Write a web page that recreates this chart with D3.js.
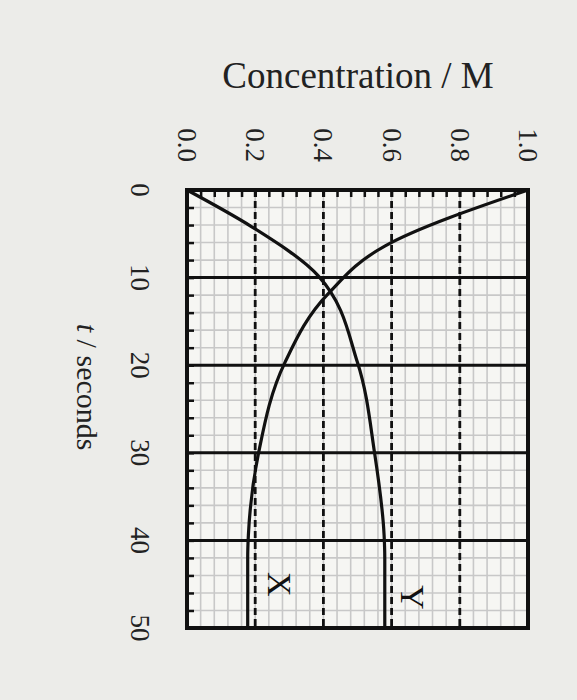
<!DOCTYPE html>
<html><head><meta charset="utf-8">
<script src="https://cdn.jsdelivr.net/npm/d3@7"></script>
<style>body{margin:0;background:#ecece9}</style></head>
<body><svg id="c" width="577" height="700"></svg>
<script>
const concTicks=[0,0.2,0.4,0.6,0.8,1.0];
const concLabels=["0.0","0.2","0.4","0.6","0.8","1.0"];
const timeTicks=[0,10,20,30,40,50];
const timeLabels=["0","10","20","30","40","50"];
const tX=[0,6.4,11.8,19.7,30,39.4,42,50];
const cX=[1.0,0.58,0.415,0.287,0.21,0.18,0.178,0.178];
const tY=[0,4.2,9.8,19.7,30,39.4,42,50];
const cY=[0,0.19,0.385,0.50,0.55,0.578,0.58,0.58];

const svg=d3.select("#c");
const xc=d3.scaleLinear().domain([0,1]).range([187,528]);
const yt=d3.scaleLinear().domain([0,50]).range([190,628]);
const F="'Liberation Serif','DejaVu Serif',serif";

svg.append("rect").attr("width",577).attr("height",700).attr("fill","#ecece9");
svg.append("rect").attr("x",xc(0)).attr("y",yt(0)).attr("width",xc(1)-xc(0)).attr("height",yt(50)-yt(0)).attr("fill","#f6f6f3");

const g=svg.append("g");
// minor grid
g.selectAll(".mc").data(d3.range(1,25).map(i=>i*0.04)).join("line")
 .attr("x1",d=>xc(d)).attr("x2",d=>xc(d)).attr("y1",yt(0)).attr("y2",yt(50))
 .attr("stroke","#c8c8c8").attr("stroke-width",1.6);
g.selectAll(".mt").data(d3.range(1,25).map(i=>i*2)).join("line")
 .attr("y1",d=>yt(d)).attr("y2",d=>yt(d)).attr("x1",xc(0)).attr("x2",xc(1))
 .attr("stroke","#c8c8c8").attr("stroke-width",1.6);
// major
g.selectAll(".Mc").data(concTicks.slice(1,5)).join("line")
 .attr("x1",d=>xc(d)).attr("x2",d=>xc(d)).attr("y1",yt(0)).attr("y2",yt(50))
 .attr("stroke","#111").attr("stroke-width",2.8).attr("stroke-dasharray","7,4");
g.selectAll(".Mt").data(timeTicks.slice(1,5)).join("line")
 .attr("y1",d=>yt(d)).attr("y2",d=>yt(d)).attr("x1",xc(0)).attr("x2",xc(1))
 .attr("stroke","#111").attr("stroke-width",3);
// tick marks via axes
svg.append("g").attr("transform",`translate(0,${yt(0)})`)
 .call(d3.axisBottom(xc).tickValues(d3.range(0,26).map(i=>i*0.04)).tickSize(7).tickFormat(""))
 .call(a=>{a.select(".domain").remove();a.selectAll("line").attr("stroke","#111").attr("stroke-width",2.5);});
svg.append("g").attr("transform",`translate(${xc(0)},0)`)
 .call(d3.axisRight(yt).tickValues(d3.range(0,26).map(i=>i*2)).tickSize(7).tickFormat(""))
 .call(a=>{a.select(".domain").remove();a.selectAll("line").attr("stroke","#111").attr("stroke-width",2.5);});
// frame
svg.append("rect").attr("x",xc(0)).attr("y",yt(0)).attr("width",xc(1)-xc(0)).attr("height",yt(50)-yt(0))
 .attr("fill","none").attr("stroke","#111").attr("stroke-width",4);

// curves
const line=d3.line().x(d=>xc(d[1])).y(d=>yt(d[0])).curve(d3.curveMonotoneY);
svg.append("path").datum(tX.map((t,i)=>[t,cX[i]])).attr("d",line).attr("fill","none").attr("stroke","#111").attr("stroke-width",3.2);
svg.append("path").datum(tY.map((t,i)=>[t,cY[i]])).attr("d",line).attr("fill","none").attr("stroke","#111").attr("stroke-width",3.2);

// curve labels
svg.append("text").attr("transform",`translate(${xc(0.27)},${yt(45)}) rotate(90)`).attr("text-anchor","middle").attr("dominant-baseline","central")
 .attr("font-family",F).attr("font-size",34).attr("fill","#111").text("X");
svg.append("text").attr("transform",`translate(${xc(0.66)},${yt(46.5)}) rotate(90)`).attr("text-anchor","middle").attr("dominant-baseline","central")
 .attr("font-family",F).attr("font-size",34).attr("fill","#111").text("Y");

// tick labels
svg.selectAll(".cl").data(concTicks).join("text")
 .attr("transform",(d)=>`translate(${xc(d)},145) rotate(90)`).attr("text-anchor","middle").attr("dominant-baseline","central")
 .attr("font-family",F).attr("font-size",27).attr("fill","#222").text((d,i)=>concLabels[i]);
svg.selectAll(".tl").data(timeTicks).join("text")
 .attr("transform",(d)=>`translate(140,${yt(d)}) rotate(90)`).attr("text-anchor","middle").attr("dominant-baseline","central")
 .attr("font-family",F).attr("font-size",27).attr("fill","#222").text((d,i)=>timeLabels[i]);

// axis titles
svg.append("text").attr("x",358).attr("y",88).attr("text-anchor","middle")
 .attr("font-family",F).attr("font-size",37).attr("fill","#222").text("Concentration / M");
const tt=svg.append("text").attr("transform",`translate(88,${yt(22.5)}) rotate(90)`).attr("text-anchor","middle").attr("dominant-baseline","central")
 .attr("font-family",F).attr("font-size",30).attr("fill","#222");
tt.append("tspan").attr("font-style","italic").text("t");
tt.append("tspan").text(" / seconds");
</script></body></html>
